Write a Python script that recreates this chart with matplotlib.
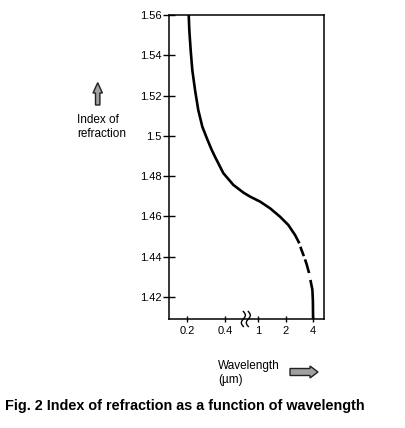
import numpy as np
import matplotlib
matplotlib.use("Agg")
import matplotlib.pyplot as plt
import matplotlib.transforms as mtransforms
from matplotlib.patches import Polygon

plt.rcParams["font.family"] = ["Liberation Sans", "DejaVu Sans"]

# curve: wavelength (um) vs index of refraction
wavelength = [0.2063, 0.2085, 0.2137, 0.2202, 0.2314, 0.2455, 0.2644, 0.2908,
              0.3137, 0.333, 0.388, 0.504, 0.665, 0.801, 1.052, 1.353,
              1.741, 2.143, 2.541, 2.83, 2.96, 3.19, 3.39, 3.61, 3.74,
              3.93, 3.98, 4.0]
index = [1.5600, 1.5526, 1.5426, 1.5327, 1.5228, 1.5128, 1.5045, 1.4979,
         1.4930, 1.4896, 1.4814, 1.4756, 1.4718, 1.4698, 1.4673, 1.4640,
         1.4598, 1.4557, 1.4507, 1.4466, 1.4438, 1.4399, 1.4364, 1.4319,
         1.4284, 1.4235, 1.4180, 1.4090]
dash_start, dash_end = 2.83, 3.74

yticks = [1.42, 1.44, 1.46, 1.48, 1.5, 1.52, 1.54, 1.56]
ytick_labels = ["1.42", "1.44", "1.46", "1.48", "1.5", "1.52", "1.54", "1.56"]
xticks = [0.2, 0.4, 1, 2, 4]
xtick_labels = ["0.2", "0.4", "1", "2", "4"]
breaks = [0.665, 0.763]

# broken log axis: the 0.2-0.4 octave is drawn wider than the 1-4 range
knot_wl = np.log2([0.1, 0.2, 0.4, 1.0, 2.0, 4.0, 8.0])
knot_pos = [149, 187, 225, 258, 285.5, 313, 341]


def forward(x):
    x = np.clip(np.asarray(x, dtype=float), 1e-6, None)
    return np.interp(np.log2(x), knot_wl, knot_pos)


def inverse(p):
    return 2 ** np.interp(np.asarray(p, dtype=float), knot_pos, knot_wl)


fig = plt.figure(figsize=(4.06, 4.28), dpi=100)
ax = fig.add_axes([169 / 406, 1 - 319 / 428, 155 / 406, 304 / 428])
ax.set_xscale("function", functions=(forward, inverse))
ax.set_xlim(0.144, 5.24)
ax.set_ylim(1.409, 1.56)

wl = np.array(wavelength)
n = np.array(index)
lw = 1.9
solid_a = wl <= dash_start
dashed = (wl >= dash_start) & (wl <= dash_end)
solid_b = wl >= dash_end
ax.plot(wl[solid_a], n[solid_a], color="black", lw=lw,
        solid_capstyle="butt", solid_joinstyle="round")
ax.plot(wl[dashed], n[dashed], color="black", lw=lw,
        linestyle=(0, (0.01, 1.35, 3.8, 1.3, 5.4, 6)), dash_capstyle="butt")
ax.plot(wl[solid_b], n[solid_b], color="black", lw=lw,
        solid_capstyle="butt", solid_joinstyle="round")

ax.set_yticks(yticks)
ax.set_yticklabels(ytick_labels)
ax.set_xticks(xticks)
ax.set_xticklabels(xtick_labels)
ax.minorticks_off()
ax.tick_params(axis="y", direction="inout", length=9, width=1.0, pad=1,
               labelsize=8)
ax.tick_params(axis="x", direction="inout", length=5, width=1.0, pad=2.5,
               labelsize=8)
for sp in ax.spines.values():
    sp.set_linewidth(1.1)

# axis break squiggles
t = np.linspace(0, 1, 40)
sq_x = -0.02 * np.sin(2 * np.pi * t)
sq_y = -0.075 + 0.15 * t
for b in breaks:
    tr = fig.dpi_scale_trans + mtransforms.ScaledTranslation(
        b, 0, ax.get_xaxis_transform())
    ax.plot(sq_x, sq_y, color="black", lw=1.0, transform=tr, clip_on=False)

# labels
px = fig.dpi_scale_trans


def at(x, y):
    return (x / 100, (428 - y) / 100)


fig.text(77 / 406, 1 - 127 / 428, "Index of\nrefraction", fontsize=8.5,
         ha="left", va="center", linespacing=1.15)
fig.text(218 / 406, 1 - 373 / 428, "Wavelength\n(\u00b5m)", fontsize=8.5,
         ha="left", va="center", linespacing=1.15)
fig.text(5 / 406, 1 - 406 / 428,
         "Fig. 2 Index of refraction as a function of wavelength",
         fontsize=10.4, fontweight="bold", ha="left", va="center")

# block arrows
up = [at(97.7, 82.7), at(102.4, 93), at(99.9, 93), at(99.9, 105),
      at(95.5, 105), at(95.5, 93), at(93.0, 93)]
right = [at(318, 372), at(310, 378), at(310, 375.5), at(290, 375.5),
         at(290, 368.5), at(310, 368.5), at(310, 366)]
for pts in (up, right):
    fig.patches.append(Polygon(pts, closed=True, facecolor="#a0a0a0",
                               edgecolor="#222222", lw=1.0, transform=px))

fig.savefig("out.png", dpi=100)
